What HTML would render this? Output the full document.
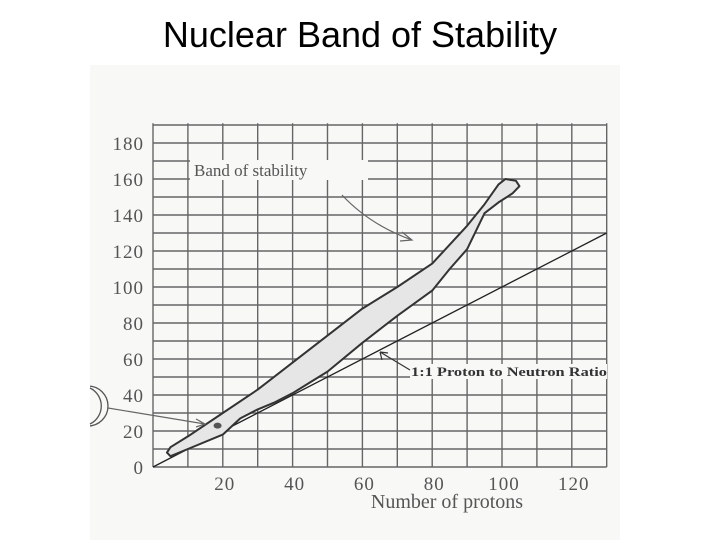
<!DOCTYPE html>
<html><head><meta charset="utf-8"><style>
html,body{margin:0;padding:0;background:#fff;width:720px;height:540px;overflow:hidden}
#title{position:absolute;left:0;top:14px;width:720px;text-align:center;font-family:"Liberation Sans",sans-serif;font-size:36px;color:#000}
svg{position:absolute;left:0;top:0}
</style></head><body>
<div id="title">Nuclear Band of Stability</div>
<svg id="chart" width="720" height="540"></svg>
<script>
const xTicks=[20,40,60,80,100,120];
const yTicks=[0,20,40,60,80,100,120,140,160,180];
const bandUpper=[[4,8],[5,11],[10,17],[20,30],[30,43],[40,58],[50,73],[60,88],[70,100],[80,113],[90,134],[95,146],[99,157],[101,160],[104,159],[105,156]];
const bandLower=[[103,152],[99,147],[95,141],[90,121],[85,110],[80,98],[70,84],[60,69],[50,53],[45,47],[40,41],[35,36],[30,32],[25,27],[20,18],[10,10],[5,6]];
const ratioLine=[[0,0],[130,130]];
const xMax=130, yMax=191;
const X=v=>153+v*3.49, Y=v=>467-v*1.8;
const svg=document.getElementById('chart');
const NS='http://www.w3.org/2000/svg';
function mk(t,a,p){const e=document.createElementNS(NS,t);for(const k in a)e.setAttribute(k,a[k]);(p||svg).appendChild(e);return e;}
const bg=mk('rect',{x:90,y:65,width:530,height:475,fill:'#f8f8f6'});


const g=mk('g',{stroke:'#666','stroke-width':1.4});


for(let v=0;v<=xMax;v+=10) mk('line',{x1:X(v),x2:X(v),y1:Y(0),y2:Y(yMax)},g);
for(let v=0;v<=190;v+=10) mk('line',{x1:X(0),x2:X(xMax),y1:Y(v),y2:Y(v)},g);
yTicks.forEach(v=>{const t=mk('text',{x:144,y:Y(v)+7,'text-anchor':'end','font-family':'Liberation Serif, serif','font-size':19,'letter-spacing':1,fill:'#555'});t.textContent=v;

});
xTicks.forEach(v=>{const t=mk('text',{x:X(v)+2,y:490,'text-anchor':'middle','font-family':'Liberation Serif, serif','font-size':19,'letter-spacing':1,fill:'#555'});t.textContent=v;

});
const xt=mk('text',{x:447,y:508,'text-anchor':'middle','font-family':'Liberation Serif, serif','font-size':20,fill:'#555'});xt.textContent='Number of protons';


const rl=mk('line',{x1:X(ratioLine[0][0]),y1:Y(ratioLine[0][1]),x2:X(ratioLine[1][0]),y2:Y(ratioLine[1][1]),stroke:'#222','stroke-width':1.3});


const pts=bandUpper.concat(bandLower).map(p=>X(p[0])+','+Y(p[1])).join(' ');
const band=mk('polygon',{points:pts,fill:'#e6e6e6',stroke:'#333','stroke-width':2,'stroke-linejoin':'round'});


const lb=mk('rect',{x:190,y:160,width:178,height:20,fill:'#f8f8f6'});


const bl=mk('text',{x:194,y:176,'font-family':'Liberation Serif, serif','font-size':17,fill:'#555'});bl.textContent='Band of stability';


const a1=mk('path',{d:'M342,195 Q370,225 412,240 M402,232 L412,240 L400,241',fill:'none',stroke:'#666','stroke-width':1.2});


const rb=mk('rect',{x:410,y:364,width:197,height:15,fill:'#f8f8f6'});


const rt=mk('text',{x:411,y:376,'font-family':'Liberation Serif, serif','font-size':13,'font-weight':'bold',fill:'#333',textLength:196,lengthAdjust:'spacingAndGlyphs'});rt.textContent='1:1 Proton to Neutron Ratio';


const a2=mk('path',{d:'M410,370 L380,352 M380,352 L382,360 M380,352 L388,353',fill:'none',stroke:'#333','stroke-width':1.2});


const c=mk('circle',{cx:88,cy:406,r:20,fill:'none',stroke:'#555','stroke-width':1.3});


const a3=mk('path',{d:'M108,408 L205,424 M196,419 L205,424 L196,427',fill:'none',stroke:'#666','stroke-width':1.2});


const d=mk('ellipse',{cx:X(18.5),cy:Y(23),rx:4,ry:3,fill:'#555'});


const w=mk('rect',{x:0,y:65,width:90,height:475,fill:'#fff'});


const c2=mk('path',{d:'M90,388 A20,20 0 0 1 90,424',fill:'none',stroke:'#555','stroke-width':1.3});


</script>
</body></html>
